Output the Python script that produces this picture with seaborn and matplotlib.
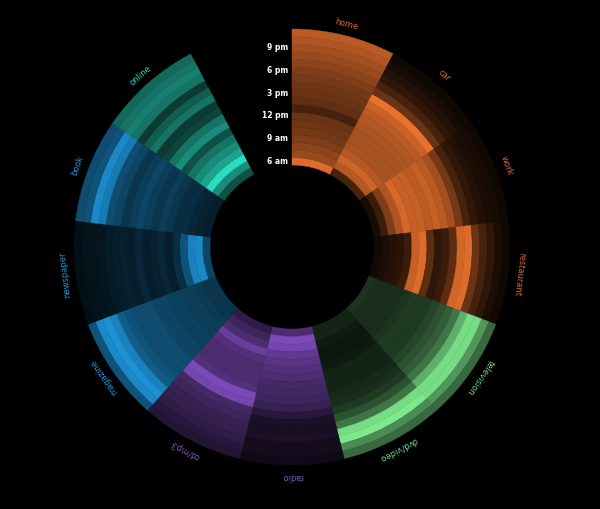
import numpy as np
import pandas as pd
import matplotlib
matplotlib.use("Agg")
import matplotlib.pyplot as plt
import seaborn as sns

# ---- data -------------------------------------------------------------
categories = ["home", "car", "work", "restaurant", "television", "dvd/video",
              "radio", "cd/mp3", "magazine", "newspaper", "book", "online"]
groups = ["orange", "orange", "orange", "orange", "green", "green",
          "purple", "purple", "blue", "blue", "blue", "teal"]
hours = ["6 am", "7 am", "8 am", "9 am", "10 am", "11 am", "12 pm", "1 pm", "2 pm",
         "3 pm", "4 pm", "5 pm", "6 pm", "7 pm", "8 pm", "9 pm", "10 pm", "11 pm"]
hour_ticks = ["6 am", "9 am", "12 pm", "3 pm", "6 pm", "9 pm"]

home = [0.95, 0.65, 0.6, 0.55, 0.5, 0.48, 0.45, 0.3, 0.42, 0.45, 0.48, 0.5, 0.55, 0.6, 0.65, 0.7, 0.75, 0.8]
car = [0.3, 0.78, 0.88, 0.78, 0.72, 0.72, 0.72, 0.74, 0.77, 0.8, 0.87, 1.0, 0.45, 0.3, 0.2, 0.15, 0.1, 0.07]
work = [0.1, 0.25, 0.55, 0.75, 0.92, 0.85, 0.85, 0.8, 0.85, 0.8, 0.7, 0.5, 0.3, 0.2, 0.15, 0.12, 0.1, 0.07]
restaurant = [0.08, 0.12, 0.15, 0.18, 0.25, 0.85, 0.95, 0.4, 0.2, 0.25, 0.4, 0.9, 0.95, 0.45, 0.3, 0.2, 0.12, 0.07]
television = [0.22, 0.2, 0.2, 0.2, 0.2, 0.22, 0.25, 0.25, 0.25, 0.3, 0.35, 0.4, 0.5, 0.75, 0.95, 0.95, 0.65, 0.45]
dvd_video = [0.15, 0.15, 0.12, 0.1, 0.1, 0.12, 0.15, 0.15, 0.15, 0.18, 0.2, 0.25, 0.35, 0.5, 0.95, 1.0, 0.6, 0.45]
radio = [0.55, 0.9, 0.85, 0.7, 0.65, 0.6, 0.55, 0.5, 0.48, 0.45, 0.4, 0.3, 0.2, 0.18, 0.2, 0.15, 0.15, 0.12]
cd_mp3 = [0.35, 0.45, 0.55, 0.75, 0.6, 0.55, 0.55, 0.55, 0.6, 0.9, 0.85, 0.5, 0.45, 0.4, 0.38, 0.35, 0.3, 0.25]
magazine = [0.35, 0.35, 0.38, 0.4, 0.4, 0.42, 0.42, 0.45, 0.45, 0.5, 0.5, 0.5, 0.55, 0.6, 0.85, 0.95, 0.9, 0.55]
newspaper = [0.45, 0.9, 0.85, 0.55, 0.3, 0.2, 0.25, 0.22, 0.2, 0.25, 0.2, 0.22, 0.2, 0.18, 0.15, 0.13, 0.12, 0.1]
book = [0.2, 0.22, 0.25, 0.3, 0.3, 0.35, 0.4, 0.35, 0.4, 0.45, 0.4, 0.35, 0.45, 0.5, 0.8, 0.9, 0.55, 0.5]
online = [0.35, 0.6, 0.95, 0.7, 0.6, 0.5, 0.35, 0.6, 0.5, 0.3, 0.25, 0.5, 0.4, 0.25, 0.5, 0.55, 0.5, 0.45]

series = [home, car, work, restaurant, television, dvd_video,
          radio, cd_mp3, magazine, newspaper, book, online]

base_colors = {"orange": "#E8712E", "green": "#7DE88C", "purple": "#8A52CC",
               "blue": "#1E98DE", "teal": "#2AE8CC"}
label_colors = {"orange": "#D9692C", "green": "#72D683", "purple": "#8550C8",
                "blue": "#2096D8", "teal": "#2AD8C0"}

df = pd.DataFrame({c: v for c, v in zip(categories, series)}, index=hours)

# ---- figure -----------------------------------------------------------
sns.set_theme(style="dark")
plt.rcParams["font.family"] = ["DejaVu Sans"]
W, H, DPI = 600, 509, 100
fig = plt.figure(figsize=(W / DPI, H / DPI), dpi=DPI, facecolor="black")
cx, cy, Rpx = 292, 247, 240
ax = fig.add_axes([(cx - Rpx) / W, (H - cy - Rpx) / H, 2 * Rpx / W, 2 * Rpx / H],
                  projection="polar", facecolor="black")
ax.set_theta_zero_location("N")
ax.set_theta_direction(-1)
ax.set_ylim(0, 1)

n_slots = len(categories) + 1
width = 2 * np.pi / n_slots
r_in = 82 / Rpx
r_out = 218 / Rpx
dr = (r_out - r_in) / len(hours)

for i, cat in enumerate(categories):
    cmap = sns.blend_palette(["#000000", base_colors[groups[i]]], as_cmap=True)
    theta = (i + 0.5) * width
    vals = df[cat].values
    for k, v in enumerate(vals):
        col = cmap(float(v))
        ax.bar(theta, dr, width=width, bottom=r_in + k * dr,
               color=col, edgecolor=col, linewidth=0.3, align="center")
    deg = np.degrees(theta)
    ax.text(theta, 229 / Rpx, cat, rotation=-deg, rotation_mode="anchor",
            ha="center", va="center", fontsize=6, color=label_colors[groups[i]])

for lab in hour_ticks:
    k = hours.index(lab)
    ax.annotate(lab, xy=(0, r_in + (k + 0.5) * dr), xytext=(-4, 0),
                textcoords="offset pixels", ha="right", va="center",
                fontsize=5.5, fontweight="bold", color="white")

ax.grid(False)
ax.set_xticks([])
ax.set_yticks([])
ax.spines["polar"].set_visible(False)

fig.savefig("out.png", dpi=DPI, facecolor="black")
